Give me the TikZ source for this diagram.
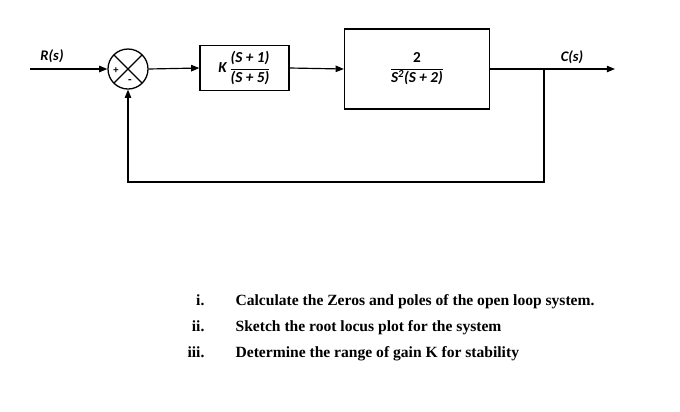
\documentclass[tikz,border=0pt]{standalone}
\usepackage{amsmath}
\usepackage{fontspec}
\setmainfont{Liberation Serif}
\newfontfamily\lblfont{Carlito}
\usetikzlibrary{positioning, arrows.meta}

\begin{document}
\begin{tikzpicture}[x=0.03cm, y=-0.03cm, line width=1pt,
        >={Triangle[length=7pt, width=5.5pt]}]
        \tikzset{
            block/.style={draw, line width=1.1pt, inner sep=2pt, font=\lblfont\bfseries\fontsize{13}{15}\selectfont},
            sumnode/.style={draw, circle, line width=1.1pt, minimum size=1.2cm, inner sep=0pt,
                path picture={\draw[line width=1.1pt] (path picture bounding box.north west) -- (path picture bounding box.south east)
                    (path picture bounding box.north east) -- (path picture bounding box.south west);}},
            signal/.style={font=\lblfont\bfseries\fontsize{12.5}{14}\selectfont},
            question/.style={anchor=base west, inner sep=0pt, font=\bfseries\fontsize{13.3}{15}\selectfont},
            qnum/.style={anchor=base east, inner sep=0pt, font=\bfseries\fontsize{13.3}{15}\selectfont}
        }
        \useasboundingbox (0,0) rectangle (680,411);

        % forward path
        \node[sumnode] (sum) at (128,69) {};
        \node[font=\lblfont\bfseries\fontsize{9}{9}\selectfont] (plus) at (116,71) {+};
        \node[font=\lblfont\bfseries\fontsize{10}{10}\selectfont] (minus) at (130,82) {-};
        \node[block, minimum width=2.67cm, minimum height=1.35cm] (ctrl) at (244.5,68)
            {\itshape K\,$\dfrac{\text{\itshape(S + 1)}}{\text{\itshape(S + 5)}}$};
        \node[block, minimum width=4.35cm, minimum height=2.4cm] (plant) at (417,69)
            {$\dfrac{\text{2}}{\text{\itshape S\textsuperscript{2}(S + 2)}}$};

        \coordinate (in) at (30,69);
        \coordinate (out) at (615,69);
        \coordinate (br) at (544,69);
        \coordinate (fb) at (544,182);

        \node[signal] (rlabel) at (52,56) {\itshape R(s)};
        \node[signal] (clabel) at (572,57) {\itshape C(s)};

        \draw[->] (in) -- (sum.west);
        \draw[->] (sum.east) -- (ctrl.west);
        \draw[->] (ctrl.east) -- (plant.west);
        \draw[->] (plant.east) -- (out);
        \draw[->] (br) -- (fb) -| (sum.south);

        % questions
        \node[qnum] (n1) at (205,305) {i.};
        \node[qnum] (n2) at (205,331) {ii.};
        \node[qnum] (n3) at (205,357) {iii.};
        \node[question] (q1) at (235,305) {Calculate the Zeros and poles of the open loop system.};
        \node[question] (q2) at (235,331) {Sketch the root locus plot for the system};
        \node[question] (q3) at (235,357) {Determine the range of gain K for stability};
\end{tikzpicture}
\end{document}
